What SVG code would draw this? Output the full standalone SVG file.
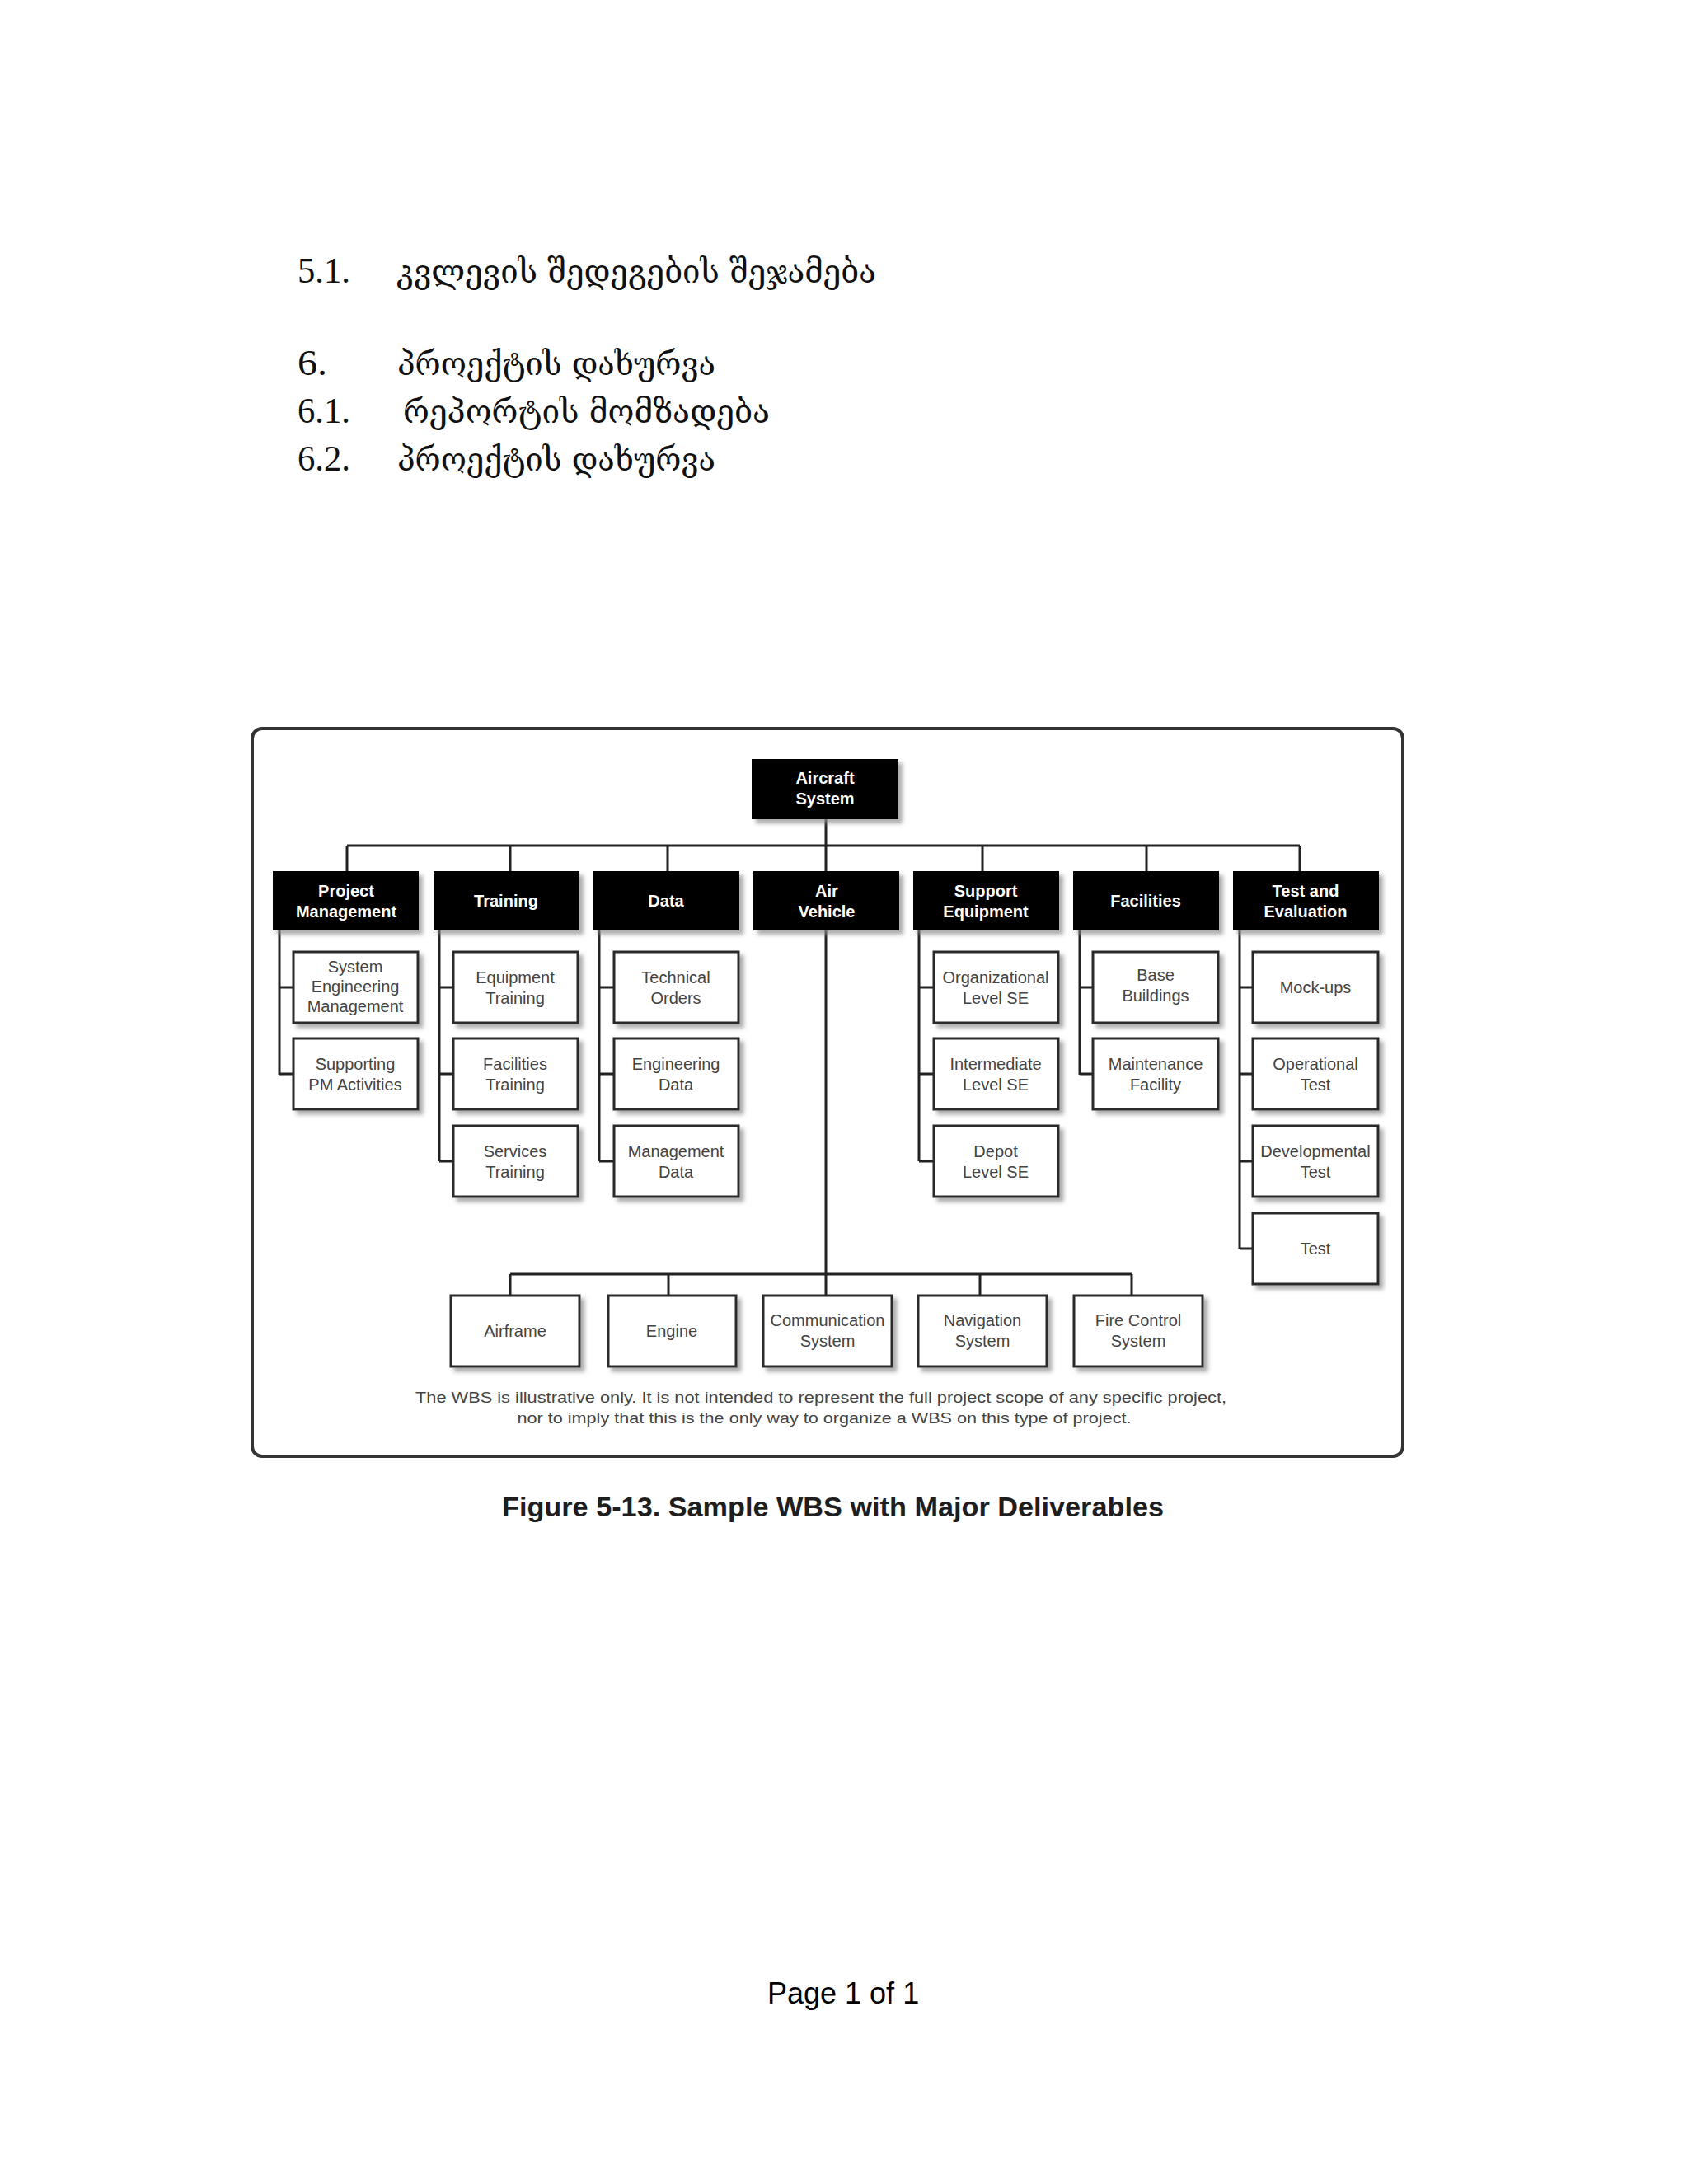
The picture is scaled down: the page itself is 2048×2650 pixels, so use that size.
<svg xmlns="http://www.w3.org/2000/svg" width="2048" height="2650" viewBox="0 0 2048 2650">
<defs>
<filter id="sh" x="-10%" y="-10%" width="130%" height="130%">
<feDropShadow dx="5" dy="5" stdDeviation="2.5" flood-color="#8a8a8a" flood-opacity="0.7"/>
</filter>
<style>
.geo{font-family:"DejaVu Serif","DejaVu Sans",sans-serif;font-size:40px;fill:#111}
.num{font-family:"Liberation Serif",serif;font-size:44px;fill:#111}
.l2 rect{fill:#000;filter:url(#sh)}
.l2 text{font-family:"Liberation Sans",Arial,sans-serif;font-weight:bold;font-size:20px;fill:#fff;text-anchor:middle}
.l3 rect{fill:#fff;stroke:#2a2a2a;stroke-width:3;filter:url(#sh)}
.l3 text{font-family:"Liberation Sans",Arial,sans-serif;font-size:20px;fill:#444;text-anchor:middle}
.con{fill:none;stroke:#222;stroke-width:3}
.note{font-family:"Liberation Sans",Arial,sans-serif;font-size:19px;fill:#444;text-anchor:middle}
.cap{font-family:"Liberation Sans",Arial,sans-serif;font-weight:bold;font-size:33px;fill:#1e1e1e}
.page{font-family:"Liberation Sans",Arial,sans-serif;font-size:36px;fill:#000}
</style>
</defs>
<rect width="2048" height="2650" fill="#fff"/>

<g id="heading">
<text class="num" x="361" y="343" textLength="64" lengthAdjust="spacingAndGlyphs">5.1.</text>
<text class="geo" x="481" y="343" textLength="582" lengthAdjust="spacingAndGlyphs">კვლევის შედეგების შეჯამება</text>
<text class="num" x="361" y="455" textLength="36" lengthAdjust="spacingAndGlyphs">6.</text>
<text class="geo" x="482" y="455" textLength="386" lengthAdjust="spacingAndGlyphs">პროექტის დახურვა</text>
<text class="num" x="361" y="513" textLength="64" lengthAdjust="spacingAndGlyphs">6.1.</text>
<text class="geo" x="489" y="513" textLength="445" lengthAdjust="spacingAndGlyphs">რეპორტის მომზადება</text>
<text class="num" x="361" y="571" textLength="64" lengthAdjust="spacingAndGlyphs">6.2.</text>
<text class="geo" x="482" y="571" textLength="386" lengthAdjust="spacingAndGlyphs">პროექტის დახურვა</text>
</g>

<g id="frame">
<rect x="306" y="884" width="1396" height="883" rx="12" fill="#fff" stroke="#333" stroke-width="4"/>
</g>

<g id="connectors">
<path class="con" d="M1002 994V1058M421 1026H1577M421 1026V1058M619 1026V1058M810 1026V1058M1192 1026V1058M1391 1026V1058M1577 1026V1058"/>
<path class="con" d="M339 1129V1304M339 1198H356M339 1303H356"/>
<path class="con" d="M533 1129V1409M533 1198H550M533 1303H550M533 1409H550"/>
<path class="con" d="M727 1129V1409M727 1198H745M727 1303H745M727 1409H745"/>
<path class="con" d="M1115 1129V1409M1115 1198H1133M1115 1303H1133M1115 1409H1133"/>
<path class="con" d="M1310 1129V1304M1310 1198H1326M1310 1303H1326"/>
<path class="con" d="M1504 1129V1515M1504 1198H1520M1504 1303H1520M1504 1409H1520M1504 1515H1520"/>
<path class="con" d="M1002 1129V1572M619 1546H1373M619 1546V1572M811 1546V1572M1189 1546V1572M1373 1546V1572"/>
</g>

<g id="n-aircraft" class="l2"><rect x="912" y="921" width="178" height="73"/><text x="1001" y="951">Aircraft</text><text x="1001" y="976">System</text></g>

<g id="n-pm" class="l2"><rect x="331" y="1057" width="177" height="72"/><text x="420" y="1088">Project</text><text x="420" y="1113">Management</text></g>
<g id="n-training" class="l2"><rect x="526" y="1057" width="177" height="72"/><text x="614" y="1100">Training</text></g>
<g id="n-data" class="l2"><rect x="720" y="1057" width="177" height="72"/><text x="808" y="1100">Data</text></g>
<g id="n-airvehicle" class="l2"><rect x="914" y="1057" width="177" height="72"/><text x="1003" y="1088">Air</text><text x="1003" y="1113">Vehicle</text></g>
<g id="n-support" class="l2"><rect x="1108" y="1057" width="177" height="72"/><text x="1196" y="1088">Support</text><text x="1196" y="1113">Equipment</text></g>
<g id="n-facilities" class="l2"><rect x="1302" y="1057" width="177" height="72"/><text x="1390" y="1100">Facilities</text></g>
<g id="n-te" class="l2"><rect x="1496" y="1057" width="177" height="72"/><text x="1584" y="1088">Test and</text><text x="1584" y="1113">Evaluation</text></g>

<g id="n-sem" class="l3"><rect x="356" y="1155" width="151" height="86"/><text x="431" y="1180">System</text><text x="431" y="1204">Engineering</text><text x="431" y="1228">Management</text></g>
<g id="n-spm" class="l3"><rect x="356" y="1260" width="151" height="86"/><text x="431" y="1298">Supporting</text><text x="431" y="1323">PM Activities</text></g>

<g id="n-eqt" class="l3"><rect x="550" y="1155" width="151" height="86"/><text x="625" y="1193">Equipment</text><text x="625" y="1218">Training</text></g>
<g id="n-fact" class="l3"><rect x="550" y="1260" width="151" height="86"/><text x="625" y="1298">Facilities</text><text x="625" y="1323">Training</text></g>
<g id="n-svt" class="l3"><rect x="550" y="1366" width="151" height="86"/><text x="625" y="1404">Services</text><text x="625" y="1429">Training</text></g>

<g id="n-to" class="l3"><rect x="745" y="1155" width="151" height="86"/><text x="820" y="1193">Technical</text><text x="820" y="1218">Orders</text></g>
<g id="n-ed" class="l3"><rect x="745" y="1260" width="151" height="86"/><text x="820" y="1298">Engineering</text><text x="820" y="1323">Data</text></g>
<g id="n-md" class="l3"><rect x="745" y="1366" width="151" height="86"/><text x="820" y="1404">Management</text><text x="820" y="1429">Data</text></g>

<g id="n-org" class="l3"><rect x="1133" y="1155" width="151" height="86"/><text x="1208" y="1193">Organizational</text><text x="1208" y="1218">Level SE</text></g>
<g id="n-int" class="l3"><rect x="1133" y="1260" width="151" height="86"/><text x="1208" y="1298">Intermediate</text><text x="1208" y="1323">Level SE</text></g>
<g id="n-depot" class="l3"><rect x="1133" y="1366" width="151" height="86"/><text x="1208" y="1404">Depot</text><text x="1208" y="1429">Level SE</text></g>

<g id="n-base" class="l3"><rect x="1326" y="1155" width="152" height="86"/><text x="1402" y="1190">Base</text><text x="1402" y="1215">Buildings</text></g>
<g id="n-maint" class="l3"><rect x="1326" y="1260" width="152" height="86"/><text x="1402" y="1298">Maintenance</text><text x="1402" y="1323">Facility</text></g>

<g id="n-mock" class="l3"><rect x="1520" y="1155" width="152" height="86"/><text x="1596" y="1205">Mock-ups</text></g>
<g id="n-opt" class="l3"><rect x="1520" y="1260" width="152" height="86"/><text x="1596" y="1298">Operational</text><text x="1596" y="1323">Test</text></g>
<g id="n-devt" class="l3"><rect x="1520" y="1366" width="152" height="86"/><text x="1596" y="1404">Developmental</text><text x="1596" y="1429">Test</text></g>
<g id="n-test" class="l3"><rect x="1520" y="1472" width="152" height="86"/><text x="1596" y="1522">Test</text></g>

<g id="n-airframe" class="l3"><rect x="547" y="1572" width="156" height="86"/><text x="625" y="1622">Airframe</text></g>
<g id="n-engine" class="l3"><rect x="738" y="1572" width="155" height="86"/><text x="815" y="1622">Engine</text></g>
<g id="n-comm" class="l3"><rect x="926" y="1572" width="156" height="86"/><text x="1004" y="1609">Communication</text><text x="1004" y="1634">System</text></g>
<g id="n-nav" class="l3"><rect x="1114" y="1572" width="156" height="86"/><text x="1192" y="1609">Navigation</text><text x="1192" y="1634">System</text></g>
<g id="n-fire" class="l3"><rect x="1303" y="1572" width="156" height="86"/><text x="1381" y="1609">Fire Control</text><text x="1381" y="1634">System</text></g>

<g id="note">
<text class="note" x="996" y="1702" textLength="984" lengthAdjust="spacingAndGlyphs">The WBS is illustrative only. It is not intended to represent the full project scope of any specific project,</text>
<text class="note" x="1000" y="1727" textLength="745" lengthAdjust="spacingAndGlyphs">nor to imply that this is the only way to organize a WBS on this type of project.</text>
</g>

<g id="caption">
<text class="cap" x="609" y="1840" textLength="803" lengthAdjust="spacingAndGlyphs">Figure 5-13. Sample WBS with Major Deliverables</text>
</g>

<g id="footer">
<text class="page" x="931" y="2431">Page 1 of 1</text>
</g>
</svg>
